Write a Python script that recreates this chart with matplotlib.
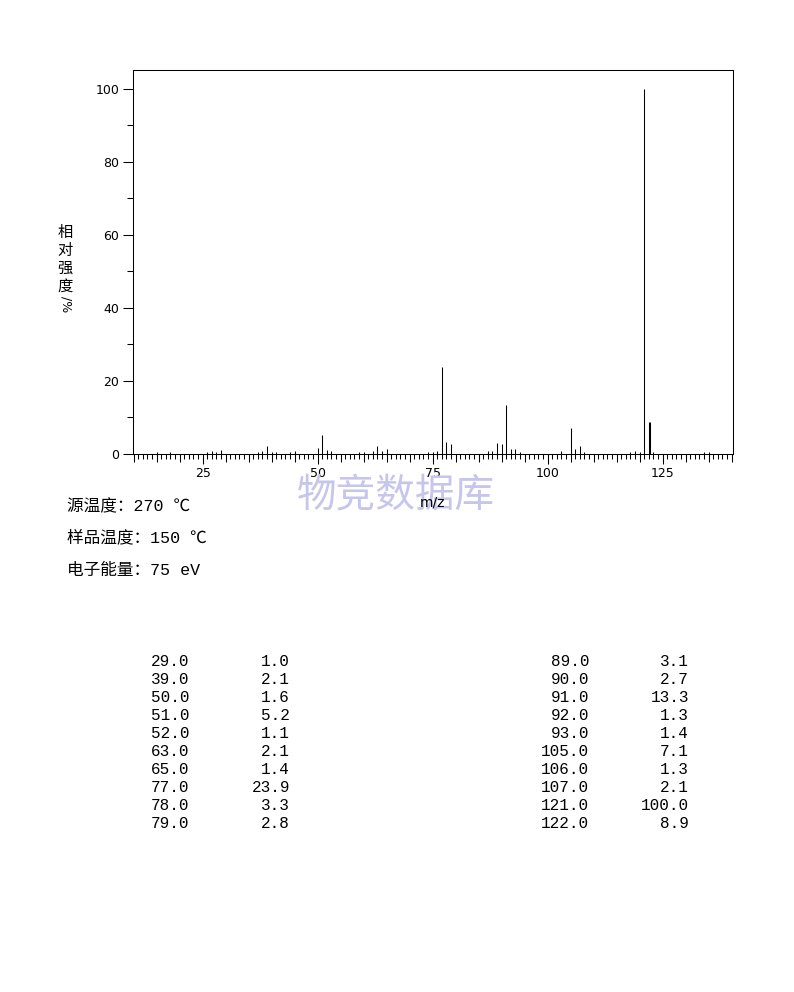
import matplotlib
matplotlib.use("Agg")
import matplotlib.pyplot as plt
import numpy as np
from matplotlib.ticker import MultipleLocator, NullFormatter

# 质谱峰 (m/z, 相对强度)
mz_peaks = [15, 18, 26, 27, 28, 29, 37, 38, 39, 40, 41, 44, 45, 50, 51, 52, 53,
            59, 60, 62, 63, 64, 65, 74, 75, 76, 77, 78, 79, 87, 88, 89, 90, 91,
            92, 93, 94, 103, 105, 106, 107, 108, 118, 119, 120, 121, 122, 123,
            134, 135]
intensity_peaks = [0.5, 0.5, 0.6, 0.8, 0.6, 1.0, 0.6, 0.9, 2.1, 0.5, 0.5, 0.5, 0.8, 1.6, 5.2, 1.1, 0.7,
                   0.5, 0.5, 0.8, 2.1, 0.8, 1.4, 0.6, 0.5, 0.7, 23.9, 3.3, 2.8, 0.7, 0.8, 3.1, 2.7, 13.3,
                   1.3, 1.4, 0.6, 0.7, 7.1, 1.3, 2.1, 0.6, 0.5, 0.7, 0.6, 100.0, 8.9, 0.5,
                   0.5, 0.6]

# 表格
table_left_mz = ["29.0", "39.0", "50.0", "51.0", "52.0", "63.0", "65.0", "77.0", "78.0", "79.0"]
table_left_int = ["1.0", "2.1", "1.6", "5.2", "1.1", "2.1", "1.4", "23.9", "3.3", "2.8"]
table_right_mz = ["89.0", "90.0", "91.0", "92.0", "93.0", "105.0", "106.0", "107.0", "121.0", "122.0"]
table_right_int = ["3.1", "2.7", "13.3", "1.3", "1.4", "7.1", "1.3", "2.1", "100.0", "8.9"]

info_lines = ["源温度：270 ℃", "样品温度：150 ℃", "电子能量：75 eV"]

W, H = 794, 992
fig = plt.figure(figsize=(W / 100, H / 100), dpi=100)
cjk = ['Noto Sans CJK SC', 'DejaVu Sans']
mono_cjk = ['Liberation Mono', 'Noto Sans CJK SC', 'DejaVu Sans']


def fx(x):
    return x / W


def fy(y):
    return 1 - y / H


ax = fig.add_axes([fx(133), fy(454), (733 - 133) / W, (454 - 70) / H])
lw = 0.75
ax.vlines(mz_peaks, 0, intensity_peaks, colors='black', linewidth=lw)
ax.vlines([122.15], 0, [8.9], colors='black', linewidth=lw)
ax.set_xlim(9.85, 140.3)
ax.set_ylim(0, 105.2)
for s in ax.spines.values():
    s.set_linewidth(lw)

ax.xaxis.set_major_locator(MultipleLocator(25))
ax.xaxis.set_minor_locator(MultipleLocator(1))
ax.yaxis.set_major_locator(MultipleLocator(20))
ax.yaxis.set_minor_locator(MultipleLocator(10))
ax.tick_params(axis='x', which='major', length=7.5, width=lw, labelsize=9, pad=2)
ax.tick_params(axis='x', which='minor', length=3.6, width=lw)
ax.tick_params(axis='y', which='major', length=7, width=lw, labelsize=9, pad=3)
ax.tick_params(axis='y', which='minor', length=4, width=lw)

sec = ax.secondary_xaxis('bottom')
sec.xaxis.set_major_locator(MultipleLocator(5))
sec.xaxis.set_major_formatter(NullFormatter())
sec.tick_params(axis='x', which='major', length=5.5, width=lw)
sec.xaxis.set_minor_locator(MultipleLocator(1))
sec.tick_params(axis='x', which='minor', length=0)
sec.spines['bottom'].set_visible(False)

# 纵轴标签
for i, ch in enumerate("相对强度"):
    fig.text(fx(65), fy(232 + 18 * i), ch, family=cjk, fontsize=11,
             ha='center', va='center')
fig.text(fx(66), fy(304), "/%", fontsize=9, rotation=-90, ha='center', va='center')

# 水印
fig.text(fx(396), fy(495), "物竞数据库", family=cjk, fontsize=28.5, color='#c6c6ec',
         ha='center', va='center', zorder=0)
fig.text(fx(432), fy(503), "m/z", fontsize=10, ha='center', va='center')

for i, line in enumerate(info_lines):
    fig.text(fx(67), fy([506, 537, 570][i]), line, family=mono_cjk, fontsize=12,
             ha='left', va='center')

for i in range(len(table_left_mz)):
    y = fy(662 + 18 * i)
    fig.text(fx(189), y, table_left_mz[i], family='Liberation Mono', fontsize=11.5, ha='right', va='center')
    fig.text(fx(290), y, table_left_int[i], family='Liberation Mono', fontsize=11.5, ha='right', va='center')
    fig.text(fx(589), y, table_right_mz[i], family='Liberation Mono', fontsize=11.5, ha='right', va='center')
    fig.text(fx(689), y, table_right_int[i], family='Liberation Mono', fontsize=11.5, ha='right', va='center')

fig.savefig("out.png", dpi=100)
